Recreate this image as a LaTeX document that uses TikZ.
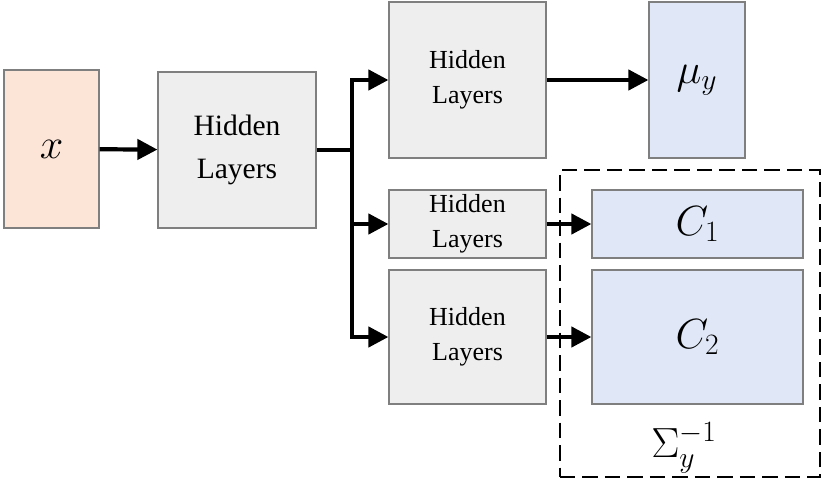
\RequirePackage{fix-cm}
\documentclass[tikz,border=0pt]{standalone}
\usepackage{fontspec}
\setmainfont{Liberation Serif}
\usetikzlibrary{arrows.meta, positioning}

\definecolor{inorange}{HTML}{FCE4D6}
\definecolor{hidgray}{HTML}{EEEEEE}
\definecolor{outblue}{HTML}{E0E8F7}
\definecolor{edgegray}{HTML}{7F7F7F}

\begin{document}
\begin{tikzpicture}[
    x=0.025cm, y=-0.025cm,
    box/.style={rectangle, draw=edgegray, line width=0.8pt, text centered, align=center, inner sep=0pt},
    input/.style={box, fill=inorange, font=\fontsize{30}{36}\selectfont},
    hidden/.style={box, fill=hidgray, font=\fontsize{21}{30}\selectfont},
    hsmall/.style={hidden, font=\fontsize{18.5}{25}\selectfont},
    output/.style={box, fill=outblue, font=\fontsize{30}{36}\selectfont},
    arrow/.style={-{Triangle[length=5mm, width=5mm]}, line width=3pt},
    group/.style={rectangle, draw, line width=1.6pt, dash pattern=on 11pt off 5pt}
]
\useasboundingbox (0,0) rectangle (825,481);

% Input
\node[input, minimum width=2.375cm, minimum height=3.95cm] (x) at (51.5,149) {$x$};

% Shared hidden layers
\node[hidden, minimum width=3.95cm, minimum height=3.9cm] (hid) at (237,150) {Hidden\\Layers};

% Branch hidden layers
\node[hsmall, minimum width=3.925cm, minimum height=3.9cm] (hidmu) at (467.5,80) {Hidden\\Layers};
\node[hsmall, minimum width=3.925cm, minimum height=1.7cm] (hidca) at (467.5,224) {Hidden\\Layers};
\node[hsmall, minimum width=3.925cm, minimum height=3.35cm] (hidcb) at (467.5,337) {Hidden\\Layers};

% Outputs
\node[output, minimum width=2.4cm, minimum height=3.9cm] (mu) at (697,80) {$\mu_y$};
\node[output, minimum width=5.275cm, minimum height=1.7cm] (ca) at (697.5,224) {$C_1$};
\node[output, minimum width=5.275cm, minimum height=3.35cm] (cb) at (697.5,337) {$C_2$};

% Precision group
\node[group, minimum width=6.5cm, minimum height=7.675cm] (sigma) at (690,323.5) {};
\node[font=\fontsize{30}{36}\selectfont] (siglab) at (684,448) {$\Sigma_y^{-1}$};

% Connectors
\coordinate (br) at (352,150);
\draw[arrow] (x) -- (hid);
\draw[line width=3pt] (hid.east) -- (br);
\draw[arrow] (br) |- (hidmu.west);
\draw[arrow] (br) |- (hidca.west);
\draw[arrow] (br) |- (hidcb.west);
\draw[arrow] (hidmu) -- (mu);
\draw[arrow] (hidca) -- (ca);
\draw[arrow] (hidcb) -- (cb);

\end{tikzpicture}
\end{document}
